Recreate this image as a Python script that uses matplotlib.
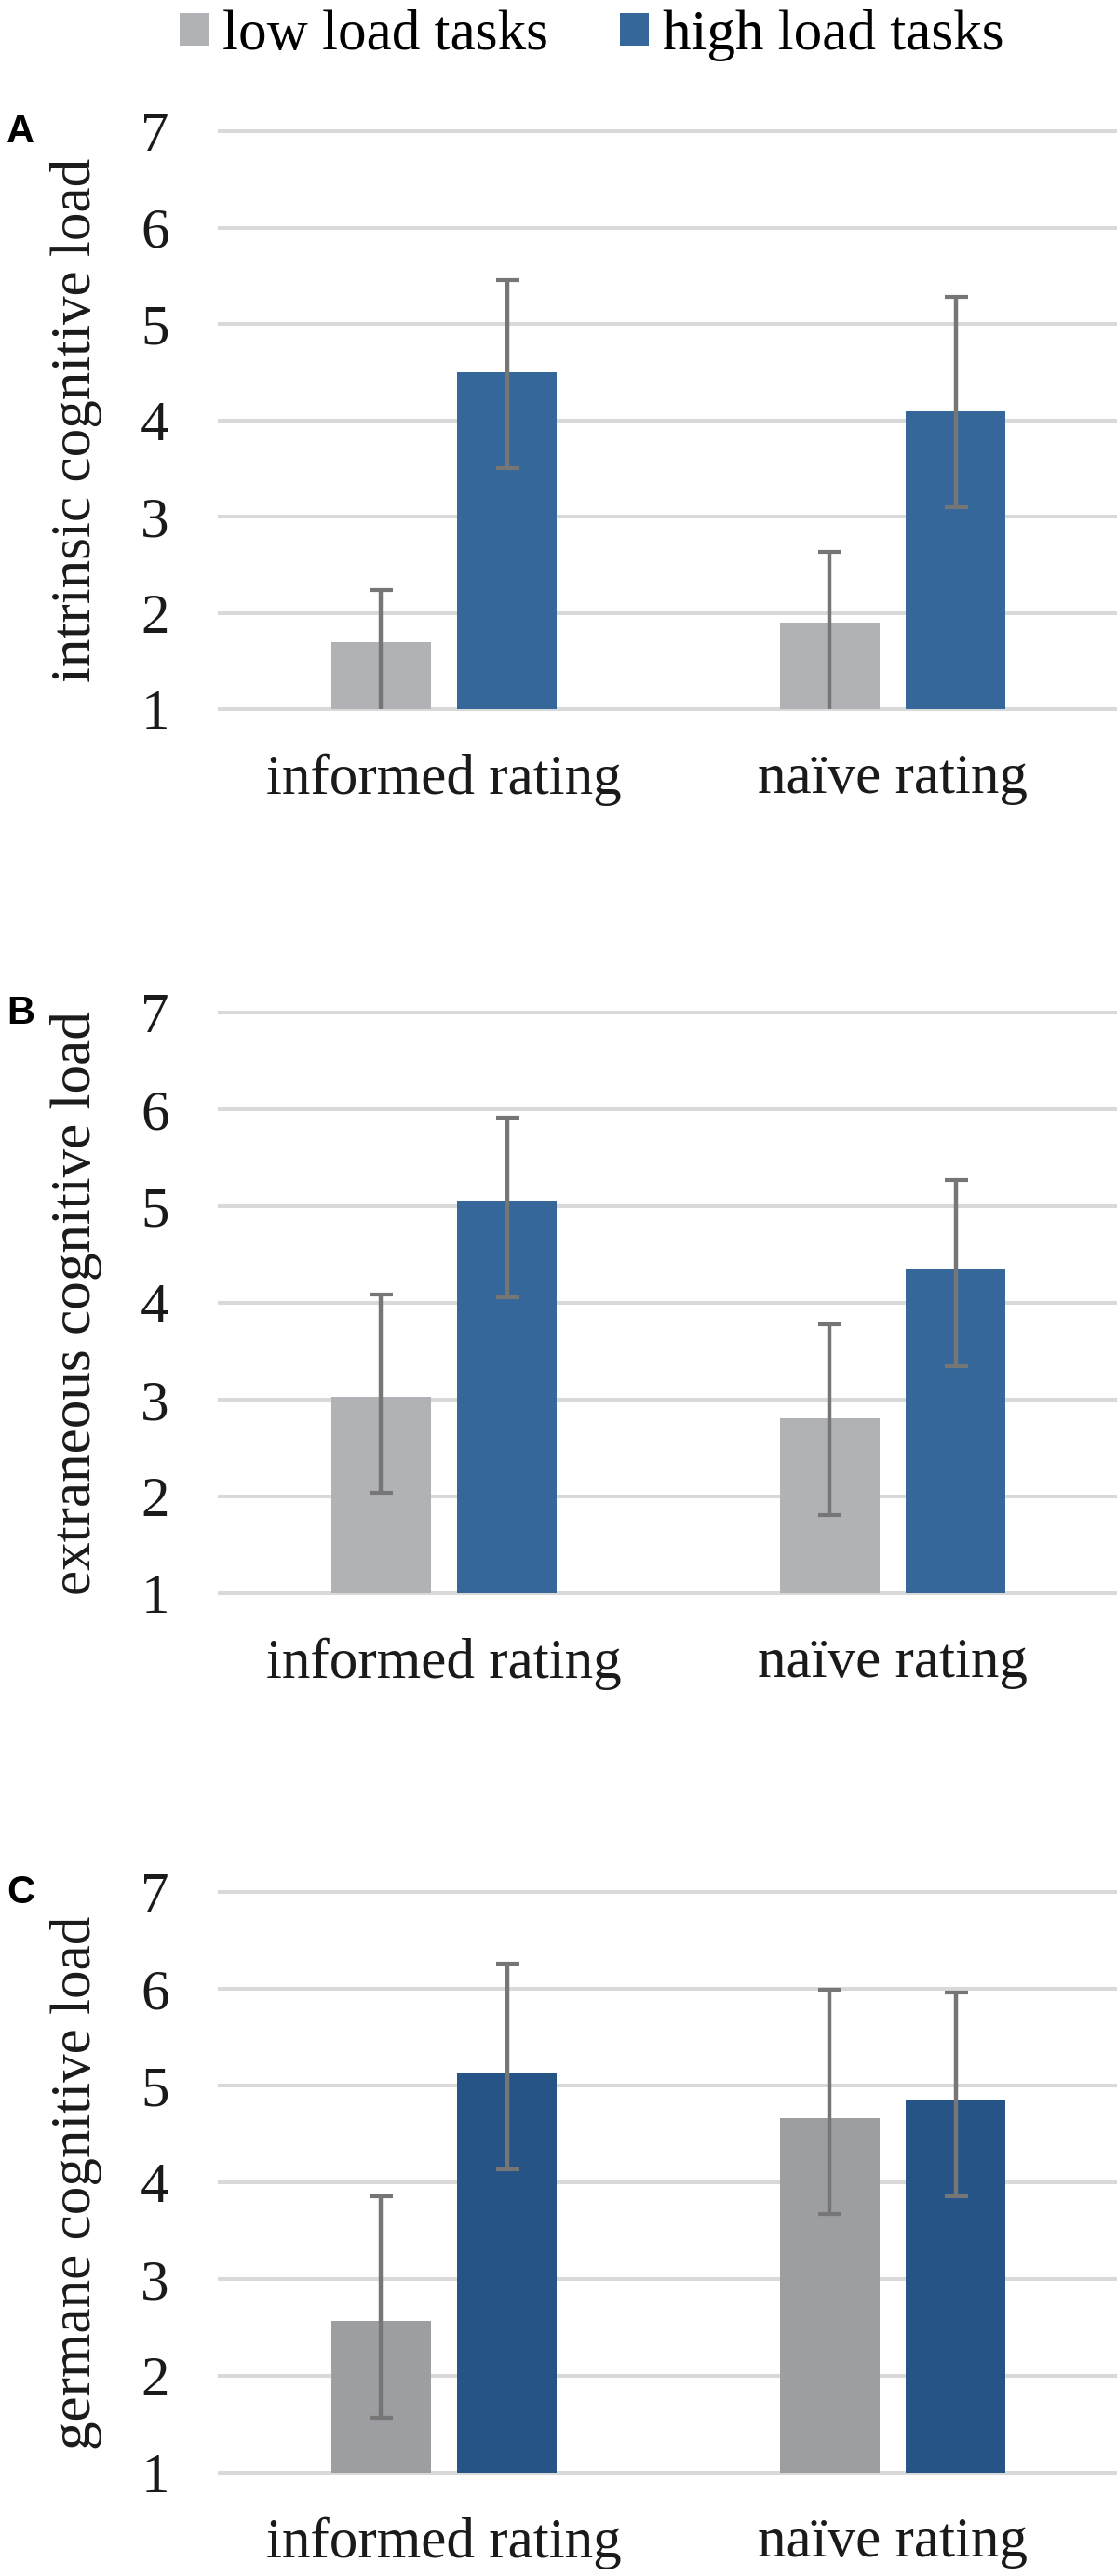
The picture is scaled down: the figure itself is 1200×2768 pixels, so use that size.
import matplotlib
matplotlib.use("Agg")
import matplotlib.pyplot as plt
import numpy as np

# categories and series
categories = ["informed rating", "naïve rating"]
series = ["low load tasks", "high load tasks"]
panel_letters = ["A", "B", "C"]
ylabels = ["intrinsic cognitive load", "extraneous cognitive load", "germane cognitive load"]

# bar heights per panel: [low, high] x [informed, naive]
low_vals = [[1.70, 1.90], [3.03, 2.81], [2.57, 4.66]]
high_vals = [[4.50, 4.09], [5.05, 4.35], [5.13, 4.86]]

# error bar ends (lower bound, upper bound)
low_err_lo = [[0.90, 0.90], [2.04, 1.81], [1.57, 3.67]]
low_err_hi = [[2.24, 2.63], [4.09, 3.78], [3.86, 5.99]]
high_err_lo = [[3.50, 3.10], [4.06, 3.35], [4.13, 3.86]]
high_err_hi = [[5.45, 5.28], [5.91, 5.27], [6.26, 5.96]]

yticks = [1, 2, 3, 4, 5, 6, 7]

# colours (panel C uses slightly darker fills)
gray_cols = ["#b1b2b6", "#b1b2b6", "#9d9ea2"]
blue_cols = ["#35679a", "#35679a", "#265487"]
err_col = "#767676"
grid_col = "#d9d9d9"

plt.rcParams["font.family"] = ["Liberation Serif", "DejaVu Serif"]

W, H = 1200, 2768
fig = plt.figure(figsize=(W / 100, H / 100), dpi=100)

# axes boxes in pixels: (top, bottom)
boxes = [(141, 762), (1088, 1712), (2033, 2657)]
left_px = 236

x = np.arange(len(categories))
off = 0.141
bw = 0.222

handles = []
for i, (top, bot) in enumerate(boxes):
    ax = fig.add_axes([left_px / W, 1 - bot / H, 1 - left_px / W, (bot - top) / H])
    lv = np.array(low_vals[i])
    hv = np.array(high_vals[i])
    b1 = ax.bar(x - off, lv - 1, bottom=1, width=bw, color=gray_cols[i], zorder=2)
    b2 = ax.bar(x + off, hv - 1, bottom=1, width=bw, color=blue_cols[i], zorder=2)
    if i == 0:
        handles = [b1, b2]
    ax.errorbar(x - off, lv, yerr=[lv - np.array(low_err_lo[i]), np.array(low_err_hi[i]) - lv],
                fmt="none", ecolor=err_col, elinewidth=3.2, capsize=9, capthick=3, zorder=3)
    ax.errorbar(x + off, hv, yerr=[hv - np.array(high_err_lo[i]), np.array(high_err_hi[i]) - hv],
                fmt="none", ecolor=err_col, elinewidth=3.2, capsize=9, capthick=3, zorder=3)

    ax.set_ylim(1, 7)
    ax.set_xlim(-0.5, 1.5)
    ax.set_yticks(yticks)
    ax.set_xticks(x)
    ax.set_xticklabels(categories)
    ax.tick_params(axis="both", length=0, labelsize=44, colors="#1a1a1a")
    ax.tick_params(axis="y", pad=39)
    ax.tick_params(axis="x", pad=34)
    for s in ax.spines.values():
        s.set_visible(False)
    ax.grid(axis="y", color=grid_col, linewidth=2.9, zorder=0)
    ax.set_axisbelow(True)
    for gl in ax.get_ygridlines():
        gl.set_clip_on(False)

    ax.set_ylabel(ylabels[i], fontsize=44, color="#1a1a1a")
    ax.yaxis.set_label_coords(-0.131, 0.5)

    fig.text(7 / W, 1 - (top - 19) / H, panel_letters[i], family="Liberation Sans",
             fontweight="bold", fontsize=30, va="top", ha="left")

fig.legend(handles, series, loc="center", bbox_to_anchor=(636 / W, 1 - 38 / H), ncol=2,
           frameon=False, fontsize=44, handlelength=0.5, handleheight=0.5,
           handletextpad=0.25, columnspacing=1.26, borderpad=0, borderaxespad=0)

fig.savefig("out.png", dpi=100, facecolor="white")
